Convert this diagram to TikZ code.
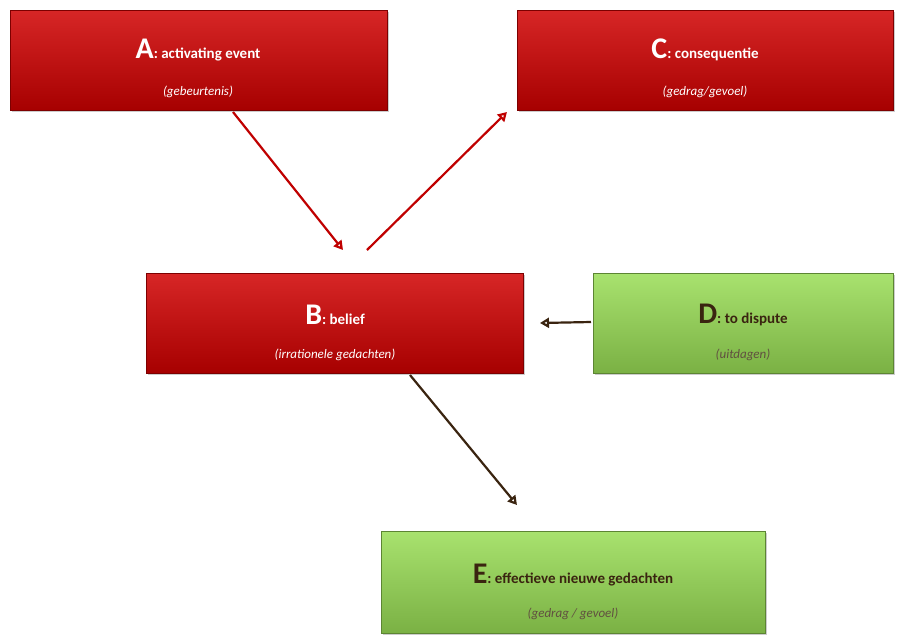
\documentclass[tikz,border=0pt]{standalone}
\usepackage{fontspec}
\setmainfont{Carlito}
\usetikzlibrary{shadows,arrows.meta}
\definecolor{rbox}{HTML}{D00000}
\definecolor{gbox}{HTML}{99DD55}
\definecolor{brn}{HTML}{3A2410}
\definecolor{rarr}{HTML}{C00000}
\tikzset{
 box/.style={draw=#1!60!black,line width=0.8pt,top color=#1!85!white,bottom color=#1!80!black,drop shadow={shadow xshift=2pt,shadow yshift=-2pt,opacity=0.4}},
 ra/.style={draw=rarr,line width=2.2pt,-{Stealth[length=9pt,width=10pt,inset=0pt,open]}},
 ba/.style={draw=brn,line width=2.2pt,-{Stealth[length=9pt,width=10pt,inset=0pt,open]}},
}
\newcommand{\hd}[2]{{\fontsize{30}{30}\selectfont\bfseries #1}{\fontsize{15}{15}\selectfont\bfseries :\ #2}}
\begin{document}
\begin{tikzpicture}[x=1pt,y=-1pt]
\useasboundingbox (0,0) rectangle (906,641);
\fill[white] (0,0) rectangle (906,641);
\path[box=rbox] (10,10) rectangle (387,110);
\path[box=rbox] (517,10) rectangle (893,110);
\path[box=rbox] (146,273) rectangle (523,373);
\path[box=gbox] (593,273) rectangle (893,373);
\path[box=gbox] (381,531) rectangle (765,633);
\node[text=white] (A) at (198,50) {\hd{A}{activating event}};
\node[text=white] (As) at (198,92) {\fontsize{13}{13}\selectfont\itshape (gebeurtenis)};
\node[text=white] (C) at (705,50) {\hd{C}{consequentie}};
\node[text=white] (Cs) at (705,92) {\fontsize{13}{13}\selectfont\itshape (gedrag/gevoel)};
\node[text=white] (B) at (335,315) {\hd{B}{belief}};
\node[text=white] (Bs) at (335,355) {\fontsize{13}{13}\selectfont\itshape (irrationele gedachten)};
\node[text=brn] (D) at (743,315) {\hd{D}{to dispute}};
\node[text=brn!80] (Ds) at (743,355) {\fontsize{13}{13}\selectfont\itshape (uitdagen)};
\node[text=brn] (E) at (573,575) {\hd{E}{effectieve nieuwe gedachten}};
\node[text=brn!80] (Es) at (573,614) {\fontsize{13}{13}\selectfont\itshape (gedrag / gevoel)};
\coordinate (a1) at (233,112); \coordinate (a2) at (343,250);
\coordinate (c1) at (367,250); \coordinate (c2) at (507,112);
\coordinate (d1) at (591,322); \coordinate (d2) at (540,323);
\coordinate (e1) at (410,375); \coordinate (e2) at (517,505);
\draw[ra] (a1) -- (a2);
\draw[ra] (c1) -- (c2);
\draw[ba] (d1) -- (d2);
\draw[ba] (e1) -- (e2);
\end{tikzpicture}
\end{document}
